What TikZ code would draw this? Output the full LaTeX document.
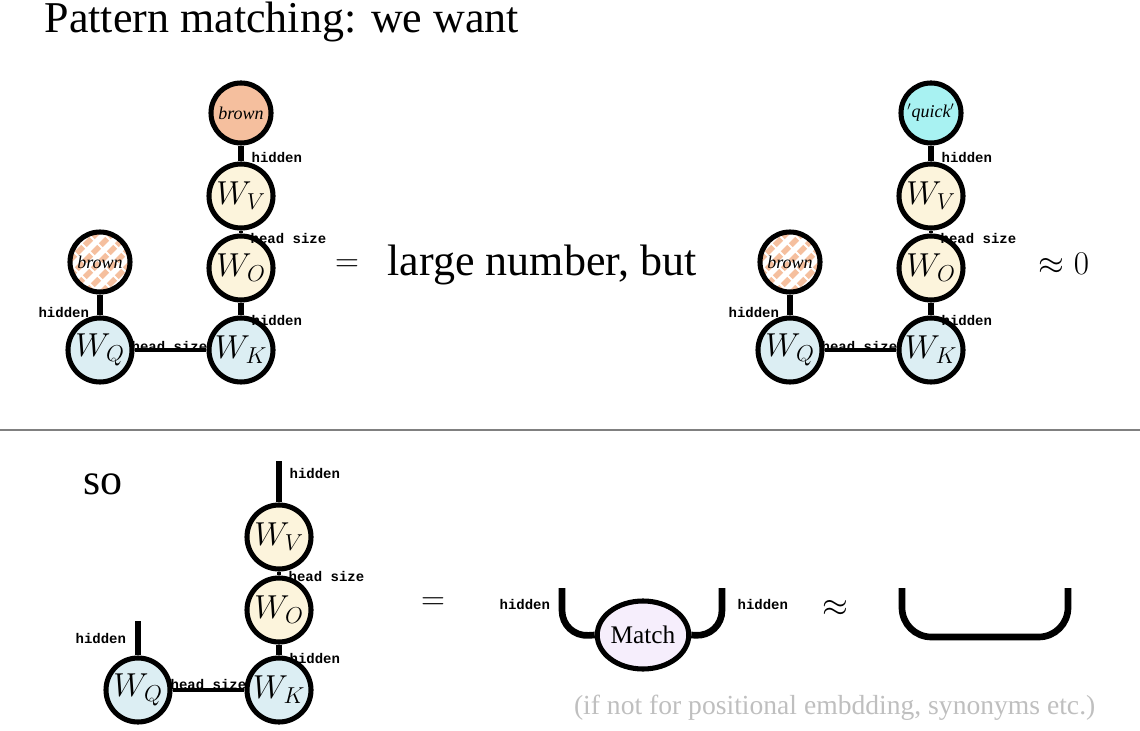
\documentclass[tikz,border=0pt]{standalone}
\usepackage{fontspec}
\setmainfont{Liberation Serif}
\setmonofont{Liberation Mono}
\usetikzlibrary{shapes.geometric}
\begin{document}
\definecolor{cbrown}{HTML}{F5BF9E}
\definecolor{cyel}{HTML}{FCF4DC}
\definecolor{cblue}{HTML}{DCEEF3}
\definecolor{ccyan}{HTML}{A8F2F2}
\definecolor{clav}{HTML}{F6EEFC}
\begin{tikzpicture}[x=0.75pt,y=-0.75pt,
  t/.style={circle,draw,line width=3.8pt,minimum size=48pt,inner sep=0pt,font=\fontsize{23}{24}\selectfont},
  y1/.style={t,fill=cyel}, b1/.style={t,fill=cblue},
  tok/.style={circle,draw,line width=3.8pt,minimum size=45pt,inner sep=0pt,font=\fontsize{13.5}{14}\selectfont\itshape},
  hatch/.style={tok,fill=white,path picture={
     \foreach \i in {-60,-48,...,60}{\draw[cbrown,line width=4pt] ([xshift=\i pt]path picture bounding box.south west) -- ++(60pt,60pt);}
     \foreach \i in {-60,-48,...,60}{\draw[white,line width=1.5pt] ([xshift=\i pt]path picture bounding box.north west) -- ++(60pt,-60pt);}}},
  hid/.style={line width=5pt}, hs/.style={line width=3pt},
  lab/.style={font=\ttfamily\bfseries\fontsize{10.5}{12}\selectfont,inner sep=1pt,anchor=west},
  big/.style={font=\fontsize{33}{36}\selectfont},
  sym/.style={font=\fontsize{38}{40}\selectfont}]
\useasboundingbox (0,0) rectangle (1140,731);
\node[big,anchor=west] (title) at (40,22) {Pattern matching: we want};
% panel 1
\node[tok,fill=cbrown] (b1) at (241,113) {brown};
\node[y1] (v1) at (241,196) {$W_V$};
\node[y1] (o1) at (241,268) {$W_O$};
\node[b1] (k1) at (241,350) {$W_K$};
\node[b1] (q1) at (100,350) {$W_Q$};
\node[hatch] (h1) at (100,262) {brown};
\draw[hid] (b1)--(v1); \draw[hs] (v1)--(o1); \draw[hid] (o1)--(k1); \draw[hs] (q1)--(k1); \draw[hid] (h1)--(q1);
\node[lab] (l1) at (250,157) {hidden};
\node[lab] (l2) at (249,238) {head size};
\node[lab] (l3) at (250,320) {hidden};
\node[lab] (l4) at (37,312) {hidden};
\node[lab] (l5) at (130,346) {head size};
\node[sym] (eq1) at (347,266) {$=$};
\node[big,anchor=west] (ln) at (383,265) {large number, but};
% panel 2
\node[tok,fill=ccyan] (b2) at (931,113) {$'$quick$'$};
\node[y1] (v2) at (931,196) {$W_V$};
\node[y1] (o2) at (931,268) {$W_O$};
\node[b1] (k2) at (931,350) {$W_K$};
\node[b1] (q2) at (790,350) {$W_Q$};
\node[hatch] (h2) at (790,262) {brown};
\draw[hid] (b2)--(v2); \draw[hs] (v2)--(o2); \draw[hid] (o2)--(k2); \draw[hs] (q2)--(k2); \draw[hid] (h2)--(q2);
\node[lab] (m1) at (940,157) {hidden};
\node[lab] (m2) at (939,238) {head size};
\node[lab] (m3) at (940,320) {hidden};
\node[lab] (m4) at (727,312) {hidden};
\node[lab] (m5) at (820,346) {head size};
\node[sym] (ap1) at (1064,264) {$\approx 0$};
\draw[gray,line width=0.8pt] (0,430) coordinate (s1) -- (1140,430) coordinate (s2);
% bottom
\node[big] (so) at (103,484) {so};
\node[y1] (v3) at (279,537) {$W_V$};
\node[y1] (o3) at (279,610) {$W_O$};
\node[b1] (k3) at (279,690) {$W_K$};
\node[b1] (q3) at (138,690) {$W_Q$};
\coordinate (e1) at (279,461); \coordinate (e2) at (138,621);
\draw[hid] (e1)--(v3); \draw[hs] (v3)--(o3); \draw[hid] (o3)--(k3); \draw[hs] (q3)--(k3); \draw[hid] (e2)--(q3);
\node[lab] (n1) at (288,473) {hidden};
\node[lab] (n2) at (287,576) {head size};
\node[lab] (n3) at (288,658) {hidden};
\node[lab] (n4) at (74,638) {hidden};
\node[lab] (n5) at (169,684) {head size};
\node[sym] (eq2) at (433,604) {$=$};
\node[ellipse,draw,line width=3.8pt,fill=clav,minimum width=61pt,minimum height=51pt,inner sep=0pt,font=\fontsize{19}{20}\selectfont] (mt) at (643,635) {Match};
\coordinate (c1) at (562,588); \coordinate (c2) at (722,588);
\draw[hid,rounded corners=20pt] (c1) -- (562,637) -- (mt.west);
\draw[hid,rounded corners=20pt] (c2) -- (722,637) -- (mt.east);
\node[lab] (p1) at (498,604) {hidden};
\node[lab] (p2) at (736,604) {hidden};
\node[sym] (ap2) at (835,608) {$\approx$};
\coordinate (d1) at (902,588); \coordinate (d2) at (1068,588);
\draw[hid,rounded corners=22pt] (d1) -- (902,637) -- (1068,637) -- (d2);
\node[font=\fontsize{20.7}{22}\selectfont,text=black!25,anchor=east] (note) at (1100,708) {(if not for positional embdding, synonyms etc.)};
\end{tikzpicture}
\end{document}
